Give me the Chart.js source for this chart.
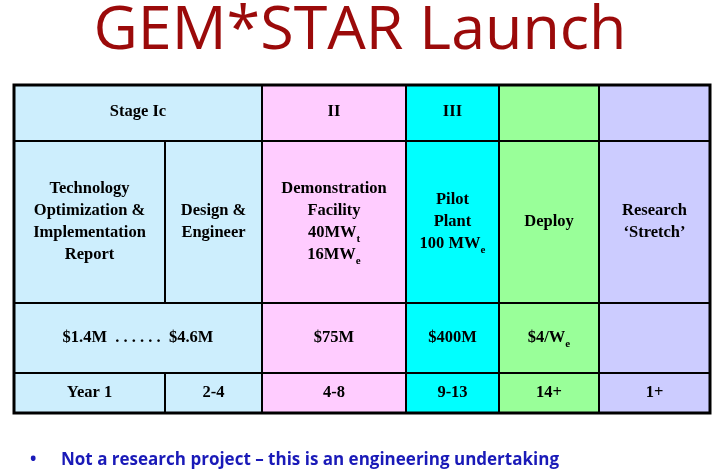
<!DOCTYPE html>
<html>
<head>
<meta charset="utf-8">
<script src="https://cdn.jsdelivr.net/npm/chart.js@4"></script>
<style>
  html, body { margin: 0; padding: 0; background: #fff; }
  #wrap { width: 713px; height: 476px; }
</style>
</head>
<body>
<div id="wrap"><canvas id="myChart"></canvas></div>
<script>
// slide text
let title = "GEM*STAR Launch";
let bullet = "Not a research project \u2013 this is an engineering undertaking";

// table content: each row is a list of [text, colspan]; "_x" means subscript x
let stageRow = [["Stage Ic", 2], ["II", 1], ["III", 1], ["", 1], ["", 1]];
let taskRow = [
  ["Technology|Optimization &|Implementation|Report", 1],
  ["Design &|Engineer", 1],
  ["Demonstration|Facility|40MW_t|16MW_e", 1],
  ["Pilot|Plant|100 MW_e", 1],
  ["Deploy", 1],
  ["Research|\u2018Stretch\u2019", 1]
];
let costRow = [["$1.4M  . . . . . .  $4.6M", 2], ["$75M", 1], ["$400M", 1], ["$4/W_e", 1], ["", 1]];
let yearRow = [["Year 1", 1], ["2-4", 1], ["4-8", 1], ["9-13", 1], ["14+", 1], ["1+", 1]];
let rows = [stageRow, taskRow, costRow, yearRow];

// column colours
let colColors = ["#cdeefd", "#cdeefd", "#ffccff", "#00ffff", "#99ff99", "#ccccff"];

// layout grid (slide units)
let colEdges = [14, 165, 262, 406, 499, 599, 710];
let rowEdges = [85, 141, 303, 373, 413];

function drawRich(ctx, str, cx, cy, size) {
  // split into normal / subscript parts
  let parts = [];
  let re = /_(\w)/g, last = 0, m;
  while ((m = re.exec(str)) !== null) {
    parts.push([str.slice(last, m.index), false]);
    parts.push([m[1], true]);
    last = re.lastIndex;
  }
  parts.push([str.slice(last), false]);
  let fN = "bold " + size + "px 'Liberation Serif', serif";
  let fS = "bold " + Math.round(size * 0.65) + "px 'Liberation Serif', serif";
  let w = 0;
  parts.forEach(p => { ctx.font = p[1] ? fS : fN; w += ctx.measureText(p[0]).width; });
  let x = cx - w / 2;
  ctx.textAlign = "left";
  ctx.textBaseline = "middle";
  parts.forEach(p => {
    ctx.font = p[1] ? fS : fN;
    ctx.fillText(p[0], x, p[1] ? cy + size * 0.35 : cy);
    x += ctx.measureText(p[0]).width;
  });
}

const slidePlugin = {
  id: "slide",
  afterDraw(chart) {
    const ctx = chart.ctx;
    const sx = chart.scales.x, sy = chart.scales.y;
    const X = v => sx.getPixelForValue(v);
    const Y = v => sy.getPixelForValue(v);
    ctx.save();

    ctx.fillStyle = "#9b0a0a";
    ctx.font = "61px 'Open Sans', 'Liberation Sans', sans-serif";
    ctx.textAlign = "center";
    ctx.textBaseline = "middle";
    ctx.fillText(title, X(360), Y(32));

    rows.forEach((row, r) => {
      let c = 0;
      row.forEach(cell => {
        let x0 = X(colEdges[c]), x1 = X(colEdges[c + cell[1]]);
        let y0 = Y(rowEdges[r]), y1 = Y(rowEdges[r + 1]);
        ctx.fillStyle = colColors[c];
        ctx.fillRect(x0, y0, x1 - x0, y1 - y0);
        ctx.strokeStyle = "#000";
        ctx.lineWidth = 2;
        ctx.strokeRect(x0, y0, x1 - x0, y1 - y0);
        ctx.fillStyle = "#000";
        let lines = cell[0] ? cell[0].split("|") : [];
        let lh = 22;
        let top = (y0 + y1) / 2 - (lines.length - 1) * lh / 2;
        let cyOff = r === 0 ? -1 : 0;
        lines.forEach((ln, i) => drawRich(ctx, ln, (x0 + x1) / 2, top + i * lh + cyOff, 16.5));
        c += cell[1];
      });
    });
    ctx.lineWidth = 3;
    ctx.strokeRect(X(colEdges[0]), Y(rowEdges[0]), X(colEdges[6]) - X(colEdges[0]), Y(rowEdges[4]) - Y(rowEdges[0]));

    ctx.fillStyle = "#1a1ab8";
    ctx.font = "bold 17px 'Open Sans', 'Liberation Sans', sans-serif";
    ctx.textAlign = "left";
    ctx.fillText("\u2022", X(30), Y(460));
    ctx.fillText(bullet, X(61), Y(460));
    ctx.restore();
  }
};

new Chart(document.getElementById("myChart"), {
  type: "scatter",
  data: { datasets: [{ data: [] }] },
  options: {
    responsive: true,
    maintainAspectRatio: false,
    animation: false,
    layout: { padding: 0 },
    plugins: { legend: { display: false }, tooltip: { enabled: false } },
    scales: {
      x: { display: false, min: 0, max: 713 },
      y: { display: false, min: 0, max: 476, reverse: true }
    }
  },
  plugins: [slidePlugin]
});
</script>
</body>
</html>
